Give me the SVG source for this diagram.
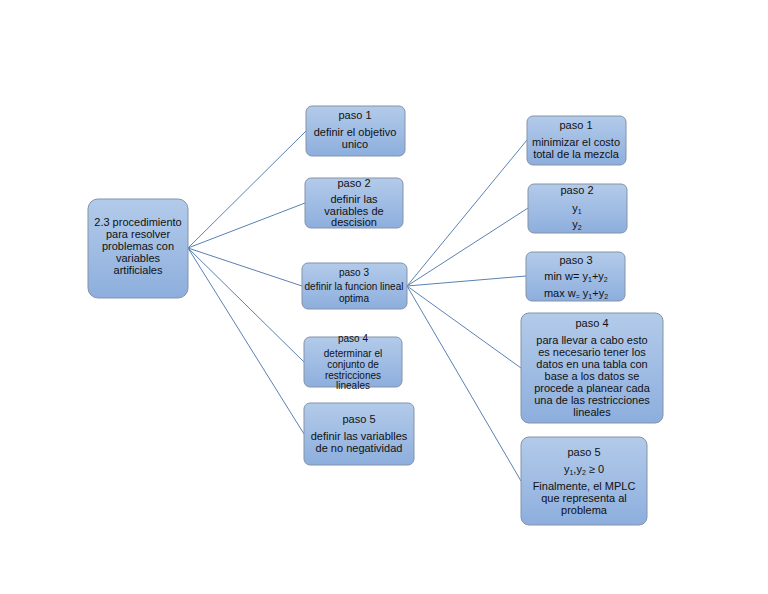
<svg xmlns="http://www.w3.org/2000/svg" width="768" height="594" viewBox="0 0 768 594">
<defs>
<linearGradient id="g" x1="0" y1="0" x2="0" y2="1"><stop offset="0" stop-color="#b3cbea"/><stop offset="1" stop-color="#8daedd"/></linearGradient>
<style>
.n{fill:url(#g);stroke:#8393a8;stroke-width:1}
text{font-family:"Liberation Sans",Arial,sans-serif;font-size:11px;fill:#111;text-anchor:middle}
.s{font-size:10px}
.sub{font-size:7px}
.c line{stroke:#5a82b3;stroke-width:1}
</style>
</defs>
<rect width="768" height="594" fill="#fff"/>
<g class="c">
<line x1="188" y1="248" x2="306" y2="131"/>
<line x1="188" y1="248" x2="305" y2="203"/>
<line x1="188" y1="248" x2="302" y2="286"/>
<line x1="188" y1="248" x2="304" y2="362"/>
<line x1="188" y1="248" x2="304" y2="434"/>
<line x1="407" y1="286" x2="527" y2="140"/>
<line x1="407" y1="286" x2="528" y2="208"/>
<line x1="407" y1="286" x2="526" y2="276"/>
<line x1="407" y1="286" x2="521" y2="368"/>
<line x1="407" y1="286" x2="521" y2="481"/>
</g>
<g id="root"><rect class="n" x="88" y="199" width="100" height="99" rx="10"/>
<text x="138" y="226">2.3 procedimiento</text><text x="138" y="238">para resolver</text><text x="138" y="250">problemas con</text><text x="138" y="262">variables</text><text x="138" y="274">artificiales</text></g>
<g id="m1"><rect class="n" x="306" y="106" width="99" height="50" rx="6"/>
<text x="355" y="119">paso 1</text><text x="355" y="136">definir el objetivo</text><text x="355" y="148">unico</text></g>
<g id="m2"><rect class="n" x="305" y="178" width="98" height="50" rx="6"/>
<text x="354" y="187">paso 2</text><text x="354" y="203">definir las</text><text x="354" y="215">variables de</text><text x="354" y="226">descision</text></g>
<g id="m3"><rect class="n" x="302" y="263" width="105" height="46" rx="6"/>
<text class="s" x="354" y="276">paso 3</text><text class="s" x="354" y="290">definir la funcion lineal</text><text class="s" x="354" y="302">optima</text></g>
<g id="m4"><rect class="n" x="304" y="337" width="98" height="50" rx="6"/>
<text class="s" x="353" y="342">paso 4</text><text class="s" x="353" y="357">determinar el</text><text class="s" x="353" y="368">conjunto de</text><text class="s" x="353" y="379">restricciones</text><text class="s" x="353" y="389">lineales</text></g>
<g id="m5"><rect class="n" x="304" y="403" width="110" height="62" rx="6"/>
<text x="359" y="423">paso 5</text><text x="359" y="440">definir las variablles</text><text x="359" y="452">de no negatividad</text></g>
<g id="r1"><rect class="n" x="527" y="116" width="99" height="49" rx="6"/>
<text x="576" y="129">paso 1</text><text x="576" y="146">minimizar el costo</text><text x="576" y="158">total  de la mezcla</text></g>
<g id="r2"><rect class="n" x="528" y="184" width="99" height="49" rx="6"/>
<text x="577" y="194">paso 2</text><text x="577" y="212">y<tspan class="sub" dy="2">1</tspan></text><text x="577" y="228">y<tspan class="sub" dy="2">2</tspan></text></g>
<g id="r3"><rect class="n" x="526" y="252" width="99" height="49" rx="6"/>
<text x="576" y="264">paso 3</text><text x="576" y="280">min w= y<tspan class="sub" dy="2">1</tspan><tspan dy="-2">+y</tspan><tspan class="sub" dy="2">2</tspan></text><text x="576" y="297">max w<tspan class="sub" dy="2">=</tspan><tspan dy="-2"> y</tspan><tspan class="sub" dy="2">1</tspan><tspan dy="-2">+y</tspan><tspan class="sub" dy="2">2</tspan></text></g>
<g id="r4"><rect class="n" x="521" y="313" width="142" height="110" rx="8"/>
<text x="592" y="327">paso 4</text><text x="592" y="344">para llevar a cabo esto</text><text x="592" y="356">es necesario tener los</text><text x="592" y="368">datos en una tabla con</text><text x="592" y="380">base a los datos se</text><text x="592" y="392">procede a planear cada</text><text x="592" y="404">una de las restricciones</text><text x="592" y="416">lineales</text></g>
<g id="r5"><rect class="n" x="521" y="437" width="126" height="88" rx="8"/>
<text x="584" y="456">paso 5</text><text x="584" y="473">y<tspan class="sub" dy="2">1</tspan><tspan dy="-2">,y</tspan><tspan class="sub" dy="2">2</tspan><tspan dy="-2"> ≥ 0</tspan></text><text x="584" y="490">Finalmente, el MPLC</text><text x="584" y="502">que representa al</text><text x="584" y="514">problema</text></g>
</svg>
